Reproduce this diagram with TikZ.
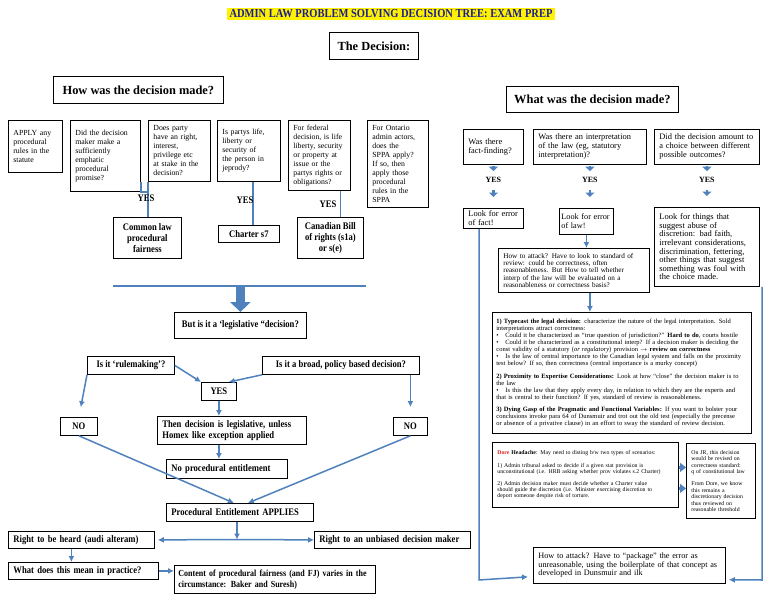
\documentclass[tikz,border=0pt]{standalone}
\usepackage{fontspec}
\setmainfont{Liberation Serif}
\newfontfamily\narrowfont[FakeStretch=0.86]{Liberation Serif}
\usetikzlibrary{arrows.meta,positioning,calc}
\definecolor{linkblue}{HTML}{4F81BD}
\definecolor{titleblue}{HTML}{1C1C96}
\definecolor{dorered}{HTML}{E02020}
\newcommand{\bul}{\par\hangindent=9pt\hangafter=1\noindent\makebox[9pt][l]{\textbullet}}

\begin{document}
\begin{tikzpicture}[x=1pt,y=1pt,
  box/.style={draw,line width=0.8pt,anchor=north west,inner xsep=5pt,inner ysep=2pt,align=left},
  head/.style={box,align=center,font=\bfseries\fontsize{12.4}{14}\selectfont},
  ask/.style={box,font=\fontsize{7.8}{9}\selectfont},
  askr/.style={box,font=\fontsize{8.4}{9}\selectfont},
  tag/.style={box,align=center,font=\narrowfont\bfseries\fontsize{10}{11}\selectfont},
  lbl/.style={font=\narrowfont\bfseries\fontsize{10}{11}\selectfont,inner sep=1pt},
  yesr/.style={font=\bfseries\fontsize{8}{9}\selectfont,inner sep=1pt},
  link/.style={draw=linkblue,line width=1.8pt},
  arr/.style={draw=linkblue,line width=1.5pt,-{Latex[length=6pt,width=6pt]}},
  chev/.style={draw=linkblue,line width=2.8pt,-{Triangle[width=9pt,length=4.5pt]}},
  fat/.style={draw=linkblue,line width=3pt,-{Triangle[width=9pt,length=6pt]}},
  block/.style={draw=linkblue,line width=9pt,-{Triangle[width=20pt,length=10pt]}}
]
\useasboundingbox (0,0) rectangle (768,-594);

% title and headings
\node[fill=yellow,inner xsep=3pt,inner ysep=1.5pt,text=titleblue,
  font=\narrowfont\bfseries\fontsize{12.2}{13}\selectfont] (title) at (391,-14)
  {ADMIN LAW PROBLEM SOLVING DECISION TREE: EXAM PREP};
\node[head,minimum width=89pt,minimum height=27pt] (dec) at (329,-32) {The Decision:};
\node[head,minimum width=170pt,minimum height=27pt] (how) at (53,-76) {How was the decision made?};
\node[head,minimum width=172pt,minimum height=26pt] (what) at (506,-86) {What was the decision made?};

% how: procedural questions
\node[ask,text width=44pt,minimum height=52pt] (b1) at (8,-120) {APPLY any\\procedural\\rules in the\\statute};
\node[ask,text width=60pt,minimum height=71pt] (b2) at (70,-120) {Did the decision\\maker make a\\sufficiently\\emphatic\\procedural\\promise?};
\node[ask,text width=52pt,minimum height=61pt] (b3) at (148,-120) {Does party\\have an right,\\interest,\\privilege etc\\at stake in the\\decision?};
\node[ask,text width=53pt,minimum height=61pt] (b4) at (217,-120) {Is partys life,\\liberty or\\security of\\the person in\\jeprody?};
\node[ask,text width=52pt,minimum height=70pt] (b5) at (288,-120) {For federal\\decision, is life\\liberty, security\\or property at\\issue or the\\partys rights or\\obligations?};
\node[ask,text width=51pt,minimum height=87pt] (b6) at (367,-120) {For Ontario\\admin actors,\\does the\\SPPA apply?\\If so, then\\apply those\\procedural\\rules in the\\SPPA};

\node[tag,minimum width=68pt,minimum height=41pt] (cl) at (113,-217) {Common law\\procedural\\fairness};
\node[tag,minimum width=61pt,minimum height=17pt] (ch) at (218,-225) {Charter s7};
\node[tag,minimum width=66pt,minimum height=41pt] (cbr) at (297,-217) {Canadian Bill\\of rights (s1a)\\or s(e)};

\draw[link] (b2.east |- b3.south) -- (b2.south east) -| (b3.south west);
\draw[link] (b3.south west |- b2.south) -- (b3.south west |- cl.north);
\draw[link] ([xshift=4pt]b4.south) -- ([xshift=4pt]b4.south |- ch.north);
\draw[link] ([xshift=21pt]b5.south) -- ([xshift=21pt]b5.south |- cbr.north);
\node[lbl] (yes1) at (146,-198) {YES};
\node[lbl] (yes2) at (245,-200) {YES};
\node[lbl] (yes3) at (328,-204) {YES};

% legislative decision?
\coordinate (barL) at (113,-286);
\coordinate (barR) at (366,-286);
\node[tag,minimum width=132pt,minimum height=26pt] (leg) at (174,-312) {But is it a ‘legislative “decision?};
\draw[link] (barL) -- (barR);
\draw[block] (leg.north |- barL) -- (leg.north);

\node[tag,minimum width=87pt,minimum height=18pt] (rule) at (87,-356) {Is it ‘rulemaking’?};
\node[tag,minimum width=157pt,minimum height=18pt] (broad) at (262,-356) {Is it a broad, policy based decision?};
\node[tag,minimum width=35pt,minimum height=18pt] (yesb) at (201,-382) {YES};
\node[tag,minimum width=37pt,minimum height=18pt] (noL) at (60,-417) {NO};
\node[tag,align=left,text width=139pt,minimum height=28pt] (then) at (157,-416) {Then decision is legislative, unless\\Homex like exception applied};
\node[tag,minimum width=34pt,minimum height=18pt] (noR) at (393,-417) {NO};
\node[tag,align=left,text width=111pt,minimum height=19pt] (nope) at (166,-459) {No procedural entitlement};
\node[tag,align=left,text width=137pt,minimum height=18pt] (app) at (166,-503) {Procedural Entitlement APPLIES};
\node[tag,align=left,text width=136pt,minimum height=17pt] (heard) at (8,-531) {Right to be heard (audi alteram)};
\node[tag,align=left,text width=146pt,minimum height=17pt] (unb) at (314,-531) {Right to an unbiased decision maker};
\node[tag,align=left,text width=140pt,minimum height=17pt] (prac) at (8,-562) {What does this mean in practice?};
\node[tag,align=left,text width=193pt,inner xsep=4pt,minimum height=28pt,font=\narrowfont\bfseries\fontsize{9.3}{11}\selectfont] (cont) at (174,-565) {Content of procedural fairness (and FJ) varies in the\\circumstance: Baker and Suresh)};

\draw[arr] (rule.east) -- (yesb.north west);
\draw[arr] (broad.south west) -- ([xshift=-8pt]yesb.north east);
\draw[arr,shorten >=10pt] (rule.south west) -- (noL.north);
\draw[arr,shorten >=10pt] (broad.south -| noR.north) -- (noR.north);
\draw[arr] (yesb.south) -- (yesb.south |- then.north);
\draw[arr] (yesb.south |- then.south) -- (yesb.south |- nope.north);
\draw[arr] (noL.south) -- ([xshift=-6pt]app.north);
\draw[arr] (noR.south) -- ([xshift=8pt]app.north);
\coordinate (split) at (237,-539.5);
\draw[arr] (app.south -| split) -- (split);
\draw[arr,shorten >=3pt] (split) -- (heard.east);
\draw[arr] (split) -- (unb.west);
\draw[arr] ([xshift=-10pt]heard.south) -- ([xshift=-10pt]heard.south |- prac.north);
\draw[arr] (prac.east) -- (prac.east -| cont.west);

% what: standard of review
\node[askr,text width=50pt,minimum height=35pt] (q1) at (463,-129) {Was there\\fact-finding?};
\node[askr,text width=103pt,minimum height=35pt] (q2) at (533,-129) {Was there an interpretation\\of the law (eg, statutory\\interpretation)?};
\node[askr,text width=95pt,minimum height=35pt] (q3) at (654,-129) {Did the decision amount to\\a choice between different\\possible outcomes?};
\node[yesr] (yr1) at (q1.south |- 0,-180) {YES};
\node[yesr] (yr2) at (q2.south |- 0,-180) {YES};
\node[yesr] (yr3) at (q3.south |- 0,-180) {YES};
\node[askr,text width=50pt,minimum height=20pt] (ef) at (463,-208) {Look for error\\of fact!};
\node[askr,text width=50pt,inner xsep=2pt,minimum height=26pt,font=\fontsize{8.2}{9}\selectfont] (el) at (559,-208) {\mbox{Look for error}\\of law!};
\node[box,text width=95pt,minimum height=79pt,font=\fontsize{8.5}{8.6}\selectfont] (th) at (654,-207) {Look for things that\\suggest abuse of\\discretion: bad faith,\\irrelevant considerations,\\discrimination, fettering,\\other things that suggest\\something was foul with\\the choice made.};

\draw[chev,shorten <=1pt,shorten >=5pt] (q1.south) -- (yr1.north);
\draw[chev,shorten <=1pt,shorten >=5pt] (q2.south) -- (yr2.north);
\draw[chev,shorten <=1pt,shorten >=5pt] (q3.south) -- (yr3.north);
\draw[chev,shorten <=6pt,shorten >=11pt] (yr1.south) -- (ef.north);
\draw[chev,shorten <=6pt,shorten >=11pt] (yr2.south) -- (yr2.south |- el.north);
\draw[chev,shorten <=6pt,shorten >=11pt] (yr3.south) -- (th.north);

\node[box,text width=141pt,minimum height=44pt,font=\fontsize{7.2}{7.2}\selectfont] (att1) at (498,-248) {How to attack? Have to look to standard of\\review: could be correctness, often\\reasonableness. But How to tell whether\\interp of the law will be evaluated on a\\reasonableness or correctness basis?};
\node[box,text width=251pt,inner xsep=4pt,minimum height=121pt,font=\fontsize{6.5}{7.1}\selectfont] (crit) at (492,-312) {\textbf{1) Typecast the legal decision:} characterize the nature of the legal interpretation. Sold\\interpretations attract correctness:
\bul Could it be characterized as “true question of jurisdiction?” \textbf{Hard to do}, courts hostile
\bul Could it be characterized as a constitutional interp? If a decision maker is deciding the\\const validity of a statutory (\textit{or regulatory}) provision $\rightarrow$ \textbf{review on correctness}
\bul Is the law of central importance to the Canadian legal system and falls on the proximity\\test below? If so, then correctness (central importance is a murky concept)
\par\vspace{5pt}\noindent\textbf{2) Proximity to Expertise Considerations:} Look at how “close” the decision maker is to\\the law
\bul Is this the law that they apply every day, in relation to which they are the experts and\\that is central to their function? If yes, standard of review is reasonableness.
\par\vspace{5pt}\noindent\textbf{3) Dying Gasp of the Pragmatic and Functional Variables:} If you want to bolster your\\conclusions invoke para 64 of Dunsmuir and trot out the old test (especially the precense\\or absence of a privative clause) in an effort to sway the standard of review decision.};
\node[box,text width=176pt,minimum height=65pt,font=\fontsize{5.8}{6.2}\selectfont] (dore) at (492,-442) {\textcolor{dorered}{\textbf{Dore}} \textbf{Headache}: May need to disting b/w two types of scenarios:
\par\vspace{6pt}\noindent 1) Admin tribunal asked to decide if a given stat provision is\\unconstitutional (i.e. HRB asking whether prov violates s.2 Charter)
\par\vspace{6pt}\noindent 2) Admin decision maker must decide whether a Charter value\\should guide the discretion (i.e. Minister exercising discretion to\\deport someone despite risk of torture.};
\node[box,text width=59pt,minimum height=75pt,font=\fontsize{5.8}{6.4}\selectfont] (jr) at (686,-443) {On JR, this decision\\would be revised on\\correctness standard:\\q of constitutional law
\par\vspace{6pt}\noindent From Dore, we know\\this remains a\\discretionary decision\\thus reviewed on\\reasonable threshold};
\node[box,text width=182pt,minimum height=36pt,font=\fontsize{8.2}{8.4}\selectfont] (att2) at (533,-547) {How to attack? Have to “package” the error as\\unreasonable, using the boilerplate of that concept as\\developed in Dunsmuir and ilk};

\draw[arr] (el.south) -- (el.south |- att1.north);
\draw[arr] ([xshift=16pt]att1.south) -- ([xshift=16pt]att1.south |- crit.north);
\draw[fat] ([yshift=7.5pt]dore.east) -- ([yshift=7.5pt]dore.east -| jr.west);
\draw[fat] ([yshift=-13.5pt]dore.east) -- ([yshift=-13.5pt]dore.east -| jr.west);
\coordinate (lc) at (479,-580);
\coordinate (rc) at (762,-580);
\draw[arr] (ef.south -| lc) -- (lc) -- ([shift={(-5pt,7pt)}]att2.south west);
\draw[arr] (th.south -| rc) -- (rc) -- ([shift={(3pt,4pt)}]att2.south east);
\end{tikzpicture}
\end{document}
